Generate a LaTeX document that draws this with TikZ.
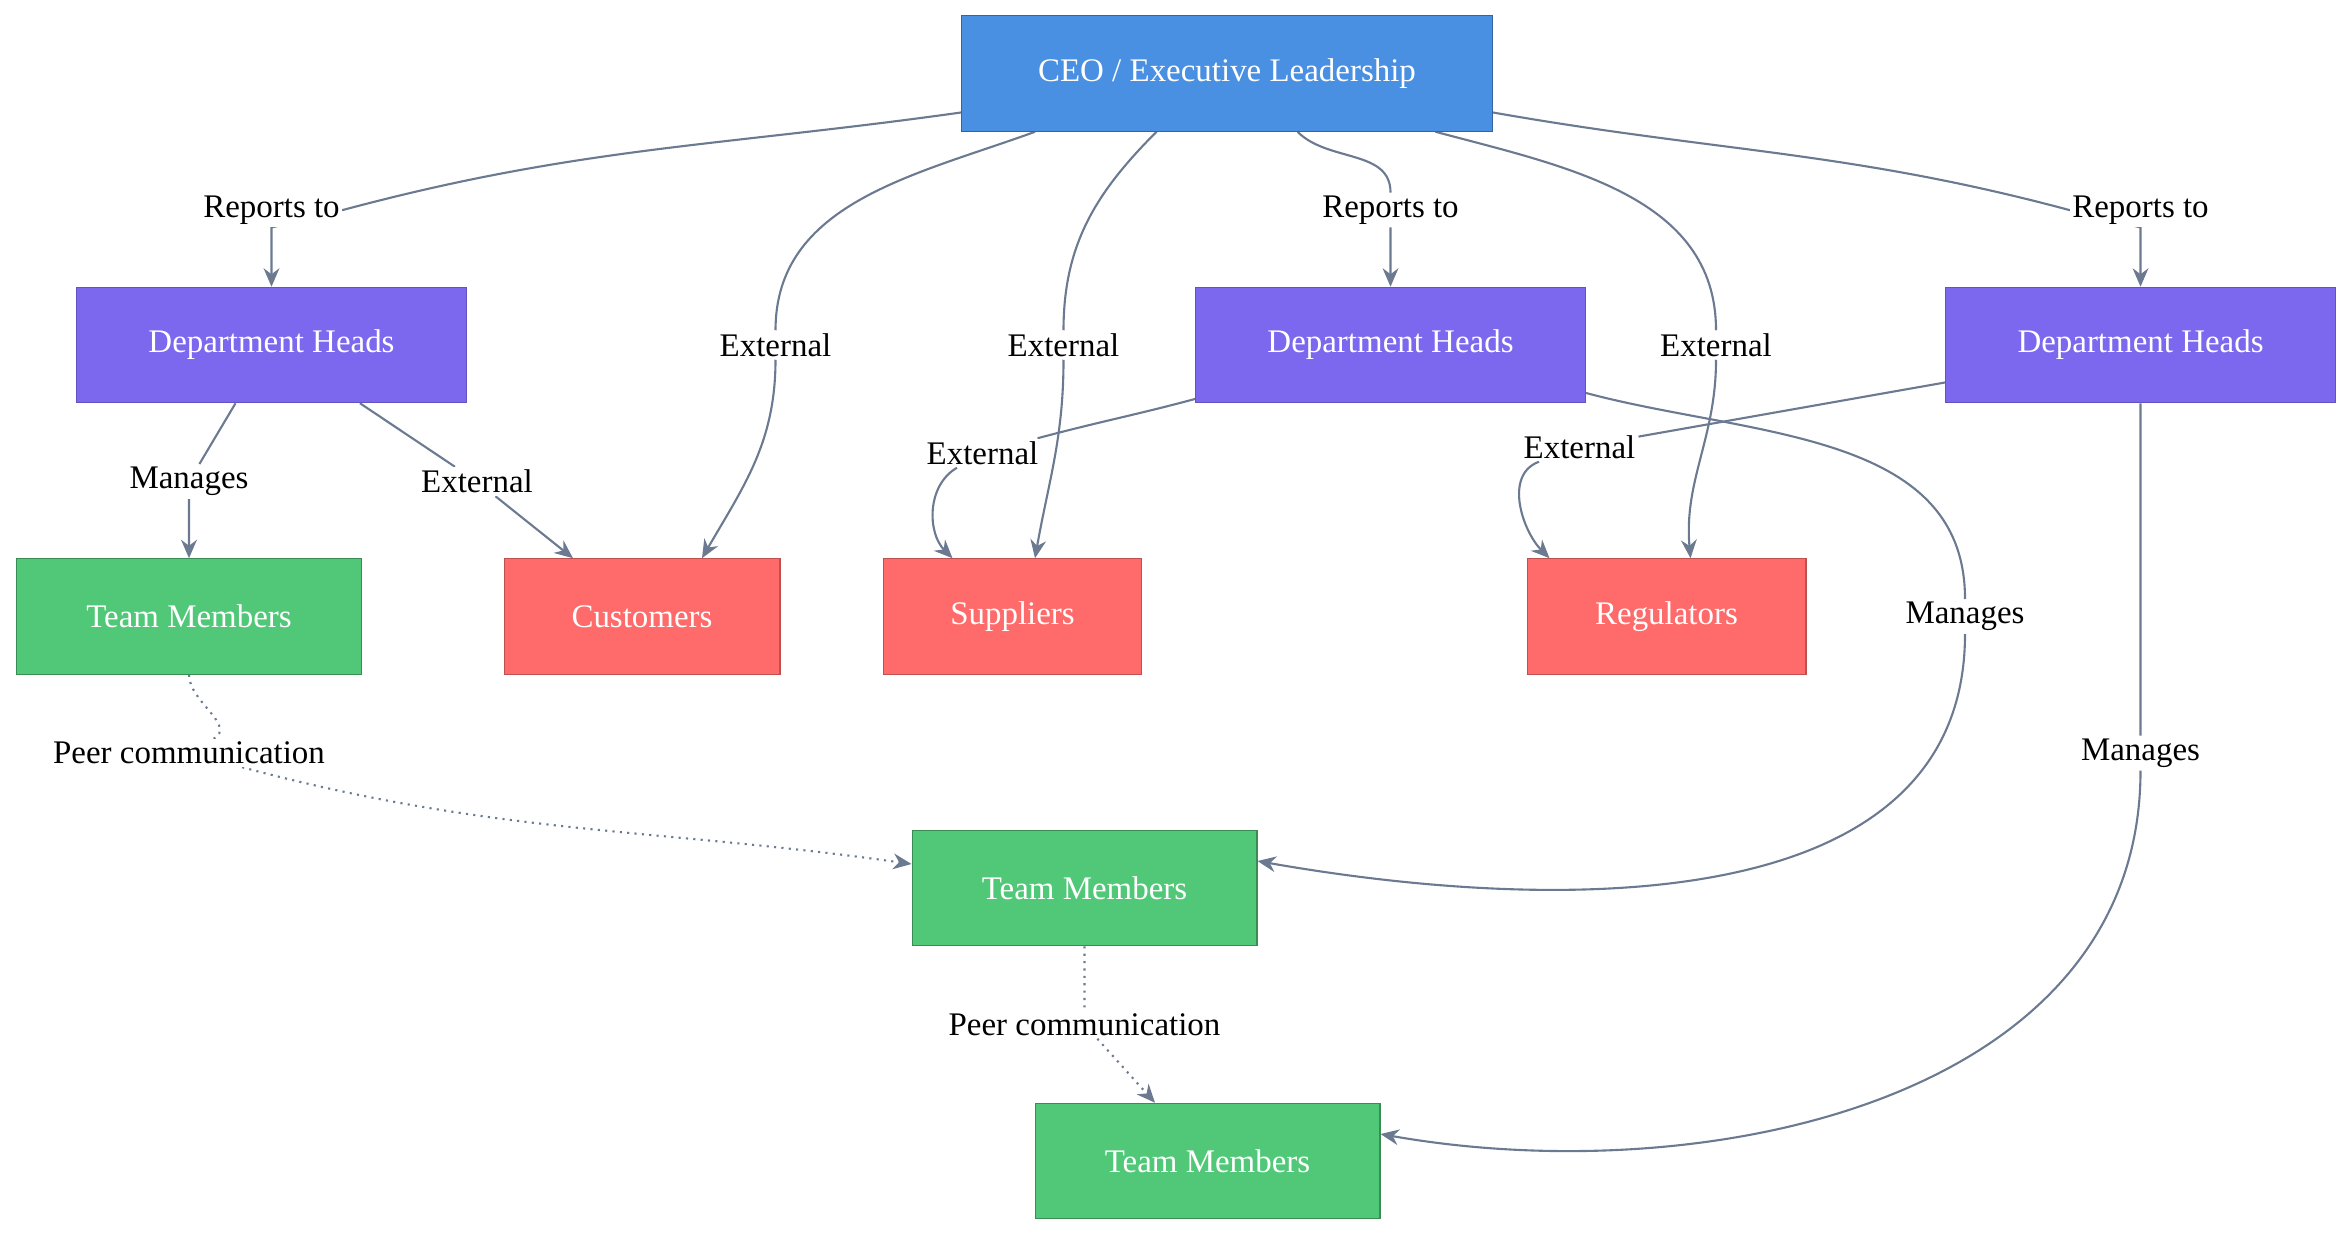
\documentclass[tikz,border=0pt]{standalone}
\usepackage{fontspec}
\setmainfont{Liberation Serif}
\usetikzlibrary{arrows.meta,backgrounds}
\definecolor{ceoblue}{HTML}{4A90E2}
\definecolor{deptpurple}{HTML}{7B68EE}
\definecolor{teamgreen}{HTML}{50C878}
\definecolor{extred}{HTML}{FF6B6B}
\definecolor{edgegray}{HTML}{6B7A90}
\tikzset{
  box/.style={draw, minimum height=1.54cm, text=white, font=\fontsize{12.5}{15}\selectfont},
  ceo/.style={box, fill=ceoblue, draw=ceoblue!70!black, minimum width=7.08cm},
  dept/.style={box, fill=deptpurple, draw=deptpurple!80!black, minimum width=5.2cm},
  team/.style={box, fill=teamgreen, draw=teamgreen!70!black, minimum width=4.6cm},
  ext/.style={box, fill=extred, draw=extred!75!black},
  lbl/.style={fill=white, inner sep=1pt, font=\fontsize{12.5}{15}\selectfont},
  edge/.style={edgegray, thick, -{Stealth[length=7pt,width=6pt]}},
  peer/.style={edge, dotted}
}
\begin{document}
\begin{tikzpicture}[x=0.02cm, y=-0.02cm]
\useasboundingbox (0,0) rectangle (1568,824);

% boxes
\node[ceo] (ceo) at (818,49) {CEO / Executive Leadership};
\node[dept] (dept1) at (181,230) {Department Heads};
\node[dept] (dept2) at (927,230) {Department Heads};
\node[dept] (dept3) at (1427,230) {Department Heads};
\node[team] (team1) at (126,411) {Team Members};
\node[ext, minimum width=3.68cm] (cust) at (428,411) {Customers};
\node[ext, minimum width=3.44cm] (supp) at (675,411) {Suppliers};
\node[ext, minimum width=3.72cm] (regu) at (1111,411) {Regulators};
\node[team] (team2) at (723,592) {Team Members};
\node[team] (team3) at (805,774) {Team Members};

% labels
\node[lbl] (rep1) at (181,140) {Reports to};
\node[lbl] (rep2) at (927,140) {Reports to};
\node[lbl] (rep3) at (1427,140) {Reports to};
\node[lbl] (ext1) at (517,230) {External};
\node[lbl] (ext2) at (709,230) {External};
\node[lbl] (ext3) at (1144,230) {External};
\node[lbl] (ext4) at (318,321) {External};
\node[lbl] (ext5) at (655,302) {External};
\node[lbl] (ext6) at (1053,298) {External};
\node[lbl] (man1) at (126,321) {Manages};
\node[lbl] (man2) at (1310,411) {Manages};
\node[lbl] (man3) at (1427,502) {Manages};
\node[lbl] (peer1) at (126,502) {Peer communication};
\node[lbl] (peer2) at (723,683) {Peer communication};

\begin{scope}[on background layer]
\draw[edge] ([yshift=-0.52cm]ceo.west) to[out=188,in=15] (rep1.east) -- (rep1.south) to[out=-90,in=90] (dept1.north);
\draw[edge] ([xshift=-2.56cm]ceo.south) to[out=200,in=90] (ext1) to[out=-90,in=60] ([xshift=0.8cm]cust.north);
\draw[edge] ([xshift=-0.94cm]ceo.south) to[out=225,in=90] (ext2) to[out=-90,in=80] ([xshift=0.3cm]supp.north);
\draw[edge] ([xshift=0.94cm]ceo.south) to[out=-45,in=90] (rep2) -- (dept2.north);
\draw[edge] ([xshift=2.78cm]ceo.south) to[out=-15,in=90] (ext3) to[out=-90,in=95] ([xshift=0.32cm]regu.north);
\draw[edge] ([yshift=-0.52cm]ceo.east) to[out=-10,in=165] (rep3.west) -- (rep3.south) -- (dept3.north);
\draw[edge] ([xshift=-0.48cm]dept1.south) -- (man1) -- (team1.north);
\draw[edge] ([xshift=1.18cm]dept1.south) -- (ext4) -- ([xshift=-0.92cm]cust.north);
\draw[edge] ([yshift=-0.72cm]dept2.west) to[out=195,in=15] (ext5) to[out=210,in=135] ([xshift=-0.8cm]supp.north);
\draw[edge] ([yshift=-0.64cm]dept2.east) to[out=-15,in=90] (man2) to[out=-90,in=-10] ([yshift=0.36cm]team2.east);
\draw[edge] ([yshift=-0.5cm]dept3.west) to[out=190,in=10] (ext6) to[out=200,in=135] ([xshift=-1.56cm]regu.north);
\draw[edge] (dept3.south) -- (man3) to[out=-90,in=-10] ([yshift=0.36cm]team3.east);
\draw[peer] (team1.south) to[out=-90,in=30] (peer1) to[out=-15,in=172] ([yshift=0.32cm]team2.west);
\draw[peer] (team2.south) -- (peer2) -- ([xshift=-0.7cm]team3.north);
\end{scope}
\end{tikzpicture}
\end{document}
